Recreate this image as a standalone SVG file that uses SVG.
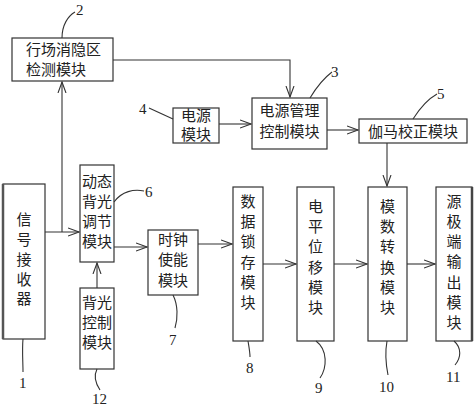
<svg xmlns="http://www.w3.org/2000/svg" width="474" height="409" viewBox="0 0 474 409">
<defs>
<style>
.box{fill:#fff;stroke:#333;stroke-width:1.2}
.t{font-family:"Noto Sans CJK SC",sans-serif;font-size:15px;fill:#222}
.n{font-family:"Liberation Serif",serif;font-size:15px;fill:#222}
.ln{fill:none;stroke:#333;stroke-width:1.1}
</style>
<marker id="a" viewBox="0 0 12 10" refX="11" refY="5" markerWidth="12" markerHeight="10" markerUnits="userSpaceOnUse" orient="auto">
<polyline points="0,1 11,5 0,9" fill="none" stroke="#333" stroke-width="1.1"/>
</marker>
</defs>
<rect width="474" height="409" fill="#fff"/>
<g id="connectors">
<path class="ln" d="M45,232 H79" marker-end="url(#a)"/>
<path class="ln" d="M62,232 V82" marker-end="url(#a)"/>
<path class="ln" d="M113,60 H290 V97" marker-end="url(#a)"/>
<path class="ln" d="M219,124 H251" marker-end="url(#a)"/>
<path class="ln" d="M327,130 H358" marker-end="url(#a)"/>
<path class="ln" d="M387,143 V186" marker-end="url(#a)"/>
<path class="ln" d="M97,288 V263" marker-end="url(#a)"/>
<path class="ln" d="M114,247 H147" marker-end="url(#a)"/>
<path class="ln" d="M198,244 H232" marker-end="url(#a)"/>
<path class="ln" d="M263,264 H296" marker-end="url(#a)"/>
<path class="ln" d="M334,264 H367" marker-end="url(#a)"/>
<path class="ln" d="M407,264 H435" marker-end="url(#a)"/>
</g>
<g id="n2">
<rect class="box" x="12" y="38" width="101" height="43"/>
<text class="t" x="26" y="55">行场消隐区</text>
<text class="t" x="26" y="75">检测模块</text>
<path class="ln" d="M62,38 C62,25 68,16 75,12"/>
<text class="n" x="76" y="15">2</text>
</g>
<g id="n4">
<rect class="box" x="173" y="108" width="46" height="35"/>
<text class="t" x="196" y="121" text-anchor="middle" font-size="14">电源</text>
<text class="t" x="196" y="140" text-anchor="middle" font-size="14">模块</text>
<path class="ln" d="M149,108 L173,119"/>
<text class="n" x="139" y="114">4</text>
</g>
<g id="n3">
<rect class="box" x="252" y="98" width="75" height="51"/>
<text class="t" x="289.5" y="116" text-anchor="middle">电源管理</text>
<text class="t" x="289.5" y="137" text-anchor="middle">控制模块</text>
<path class="ln" d="M310,98 C316,88 324,78 332,72"/>
<text class="n" x="331" y="77">3</text>
</g>
<g id="n5">
<rect class="box" x="359" y="119" width="108" height="24"/>
<text class="t" x="413" y="137" text-anchor="middle">伽马校正模块</text>
<path class="ln" d="M413,119 C420,108 428,99 437,94"/>
<text class="n" x="437" y="99">5</text>
</g>
<g id="n1">
<rect class="box" x="3" y="184" width="42" height="155"/>
<line x1="3" y1="184" x2="3" y2="339" stroke="#555" stroke-width="2.5"/>
<text class="t" x="24" y="225" text-anchor="middle">信</text>
<text class="t" x="24" y="245" text-anchor="middle">号</text>
<text class="t" x="24" y="265" text-anchor="middle">接</text>
<text class="t" x="24" y="285" text-anchor="middle">收</text>
<text class="t" x="24" y="304" text-anchor="middle">器</text>
<path class="ln" d="M23,339 C22,350 23,362 23,372"/>
<text class="n" x="19" y="388">1</text>
</g>
<g id="n6">
<rect class="box" x="80" y="165" width="34" height="97"/>
<text class="t" x="97" y="187" text-anchor="middle">动态</text>
<text class="t" x="97" y="207" text-anchor="middle">背光</text>
<text class="t" x="97" y="227" text-anchor="middle">调节</text>
<text class="t" x="97" y="247" text-anchor="middle">模块</text>
<path class="ln" d="M114,202 C122,191 134,189 144,191"/>
<text class="n" x="145" y="197">6</text>
</g>
<g id="n12">
<rect class="box" x="80" y="288" width="34" height="81"/>
<text class="t" x="97" y="308" text-anchor="middle">背光</text>
<text class="t" x="97" y="328" text-anchor="middle">控制</text>
<text class="t" x="97" y="348" text-anchor="middle">模块</text>
<path class="ln" d="M97,369 C93,377 96,384 100,390"/>
<text class="n" x="92" y="404">12</text>
</g>
<g id="n7">
<rect class="box" x="148" y="230" width="50" height="65"/>
<text class="t" x="173" y="245" text-anchor="middle">时钟</text>
<text class="t" x="173" y="265" text-anchor="middle">使能</text>
<text class="t" x="173" y="286" text-anchor="middle">模块</text>
<path class="ln" d="M173,295 C178,305 178,318 175,328"/>
<text class="n" x="169" y="345">7</text>
</g>
<g id="n8">
<rect class="box" x="233" y="187" width="30" height="154"/>
<text class="t" x="248" y="207" text-anchor="middle">数</text>
<text class="t" x="248" y="227" text-anchor="middle">据</text>
<text class="t" x="248" y="247" text-anchor="middle">锁</text>
<text class="t" x="248" y="268" text-anchor="middle">存</text>
<text class="t" x="248" y="288" text-anchor="middle">模</text>
<text class="t" x="248" y="308" text-anchor="middle">块</text>
<path class="ln" d="M248,341 C249,347 250,352 250,357"/>
<text class="n" x="246" y="373">8</text>
</g>
<g id="n9">
<rect class="box" x="297" y="187" width="37" height="154"/>
<text class="t" x="315.5" y="212" text-anchor="middle">电</text>
<text class="t" x="315.5" y="232" text-anchor="middle">平</text>
<text class="t" x="315.5" y="252" text-anchor="middle">位</text>
<text class="t" x="315.5" y="273" text-anchor="middle">移</text>
<text class="t" x="315.5" y="293" text-anchor="middle">模</text>
<text class="t" x="315.5" y="313" text-anchor="middle">块</text>
<path class="ln" d="M316,341 C328,350 327,368 320,378"/>
<text class="n" x="315" y="393">9</text>
</g>
<g id="n10">
<rect class="box" x="368" y="187" width="39" height="154"/>
<text class="t" x="387.5" y="212" text-anchor="middle">模</text>
<text class="t" x="387.5" y="232" text-anchor="middle">数</text>
<text class="t" x="387.5" y="252" text-anchor="middle">转</text>
<text class="t" x="387.5" y="273" text-anchor="middle">换</text>
<text class="t" x="387.5" y="293" text-anchor="middle">模</text>
<text class="t" x="387.5" y="313" text-anchor="middle">块</text>
<path class="ln" d="M387,341 C385,352 386,365 388,375"/>
<text class="n" x="379" y="392">10</text>
</g>
<g id="n11">
<rect class="box" x="436" y="187" width="36" height="154"/>
<line x1="472" y1="187" x2="472" y2="341" stroke="#444" stroke-width="2.5"/>
<text class="t" x="454" y="207" text-anchor="middle">源</text>
<text class="t" x="454" y="227" text-anchor="middle">极</text>
<text class="t" x="454" y="247" text-anchor="middle">端</text>
<text class="t" x="454" y="267" text-anchor="middle">输</text>
<text class="t" x="454" y="288" text-anchor="middle">出</text>
<text class="t" x="454" y="308" text-anchor="middle">模</text>
<text class="t" x="454" y="328" text-anchor="middle">块</text>
<path class="ln" d="M454,341 C462,348 461,358 455,365"/>
<text class="n" x="446" y="382">11</text>
</g>
</svg>
